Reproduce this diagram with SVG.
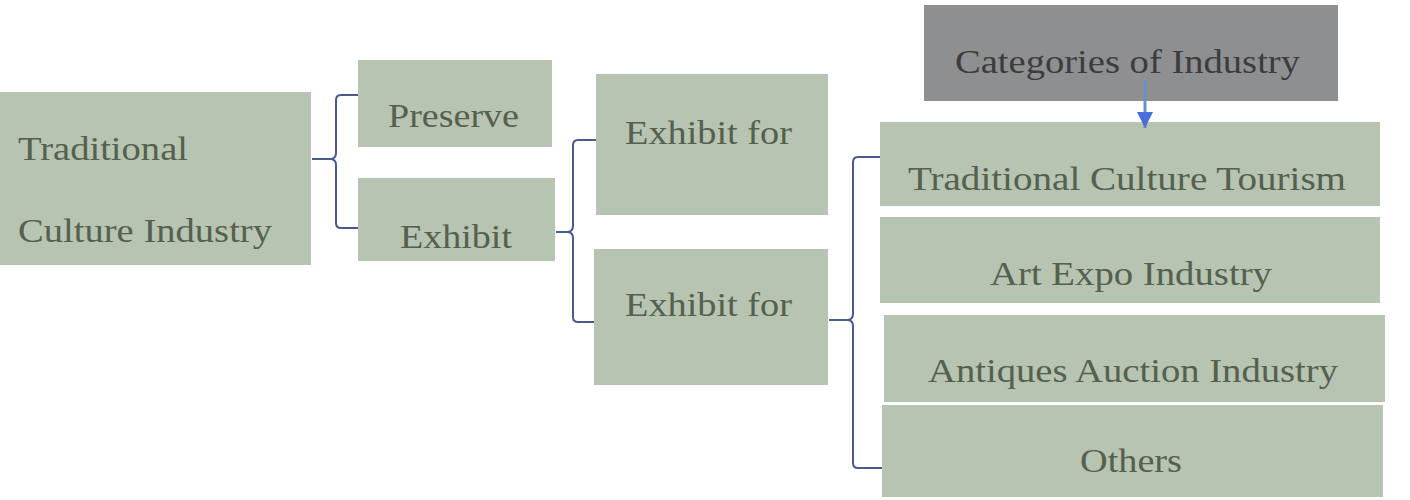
<svg xmlns="http://www.w3.org/2000/svg" width="1410" height="500" viewBox="0 0 1410 500">
<defs>
<style>
.box{fill:#b6c4b1;}
.cat{fill:#8e8f91;}
.t{font-family:"Liberation Serif","Times New Roman",serif;font-size:33px;fill:#55604f;}
.tc{font-family:"Liberation Serif","Times New Roman",serif;font-size:33px;fill:#3c3c3e;}
.br{fill:none;stroke:#4a5a8c;stroke-width:2;}
</style>
<marker id="ah" viewBox="0 0 10 10" refX="10" refY="5" markerWidth="5.5" markerHeight="5.5" orient="auto" markerUnits="strokeWidth">
<path d="M0,0 L10,5 L0,10 Z" fill="#4a6fd8"/>
</marker>
</defs>
<rect width="1410" height="500" fill="#ffffff"/>
<g id="n-tci"><rect class="box" x="0" y="92" width="311" height="173"/>
<text class="t" x="18" y="160" textLength="170" lengthAdjust="spacingAndGlyphs">Traditional</text>
<text class="t" x="18" y="242" textLength="254" lengthAdjust="spacingAndGlyphs">Culture Industry</text></g>
<g id="n-preserve"><rect class="box" x="358" y="60" width="194" height="87"/>
<text class="t" x="388" y="127" textLength="131" lengthAdjust="spacingAndGlyphs">Preserve</text></g>
<g id="n-exhibit"><rect class="box" x="358" y="178" width="197" height="83"/>
<text class="t" x="400" y="248" textLength="112" lengthAdjust="spacingAndGlyphs">Exhibit</text></g>
<g id="n-exhibit-for-1"><rect class="box" x="596" y="74" width="232" height="141"/>
<text class="t" x="625" y="144" textLength="167" lengthAdjust="spacingAndGlyphs">Exhibit for</text></g>
<g id="n-exhibit-for-2"><rect class="box" x="594" y="249" width="234" height="136"/>
<text class="t" x="625" y="316" textLength="167" lengthAdjust="spacingAndGlyphs">Exhibit for</text></g>
<g id="n-categories"><rect class="cat" x="924" y="5" width="414" height="96"/>
<text class="tc" x="955" y="73" textLength="345" lengthAdjust="spacingAndGlyphs">Categories of Industry</text></g>
<g id="n-tourism"><rect class="box" x="880" y="122" width="500" height="84"/>
<text class="t" x="908" y="190" textLength="438" lengthAdjust="spacingAndGlyphs">Traditional Culture Tourism</text></g>
<g id="n-artexpo"><rect class="box" x="880" y="217" width="500" height="86"/>
<text class="t" x="990" y="285" textLength="282" lengthAdjust="spacingAndGlyphs">Art Expo Industry</text></g>
<g id="n-antiques"><rect class="box" x="884" y="315" width="501" height="87"/>
<text class="t" x="928" y="382" textLength="410" lengthAdjust="spacingAndGlyphs">Antiques Auction Industry</text></g>
<g id="n-others"><rect class="box" x="882" y="405" width="501" height="92"/>
<text class="t" x="1080" y="472" textLength="102" lengthAdjust="spacingAndGlyphs">Others</text></g>
<g id="connectors">
<path class="br" d="M358,95 H341 Q336,95 336,100 V153 Q336,159 330,159 H312 M330,159 Q336,159 336,165 V223 Q336,228 341,228 H358"/>
<path class="br" d="M596,140 H578 Q573,140 573,145 V226 Q573,232 567,232 H556 M567,232 Q573,232 573,238 V317 Q573,322 578,322 H594"/>
<path class="br" d="M880,157 H858 Q853,157 853,162 V314 Q853,320 847,320 H829 M847,320 Q853,320 853,326 V463 Q853,468 858,468 H882"/>
<line x1="1145" y1="80" x2="1145" y2="128" stroke="#6a8fc8" stroke-width="3" marker-end="url(#ah)"/>
</g>
</svg>
